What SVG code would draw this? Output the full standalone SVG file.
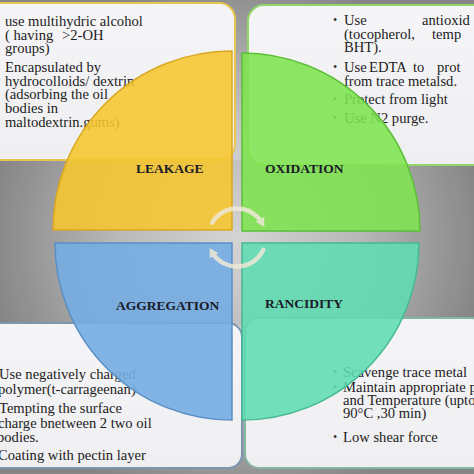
<svg xmlns="http://www.w3.org/2000/svg" width="474" height="474" viewBox="0 0 474 474">
<defs>
<radialGradient id="bg" cx="237" cy="240" r="270" gradientUnits="userSpaceOnUse">
<stop offset="0" stop-color="#e2e2e2"/>
<stop offset="0.45" stop-color="#c4c4c4"/>
<stop offset="1" stop-color="#858585"/>
</radialGradient>
<linearGradient id="box" x1="0" y1="0" x2="0" y2="1">
<stop offset="0" stop-color="#f5f5f7"/>
<stop offset="1" stop-color="#efeff2"/>
</linearGradient>
<marker id="ah" markerUnits="userSpaceOnUse" markerWidth="12" markerHeight="12" refX="4" refY="6" orient="auto">
<path d="M0,1 L9,6 L0,11 Z" fill="#efe8d6"/>
</marker>
</defs>
<style>
.t{font-family:"Liberation Serif","Times New Roman",serif;font-size:14.6px;fill:#1c1c1c}
.b{font-family:"Liberation Serif","Times New Roman",serif;font-size:12px;fill:#333}
.lab{font-family:"Liberation Serif","Times New Roman",serif;font-size:13.5px;font-weight:bold;fill:#1b1b28}
.q{stroke-width:1.5}
.arc{fill:none;stroke:#efe8d6;stroke-width:4.5;stroke-linecap:round;opacity:0.85}
</style>
<rect x="0" y="0" width="474" height="474" fill="url(#bg)"/>
<rect x="0" y="160" width="474" height="165" fill="#000" opacity="0.06"/>

<g id="box-leakage">
<rect x="-16" y="3" width="251" height="157" rx="16" fill="url(#box)" stroke="#e6c650" stroke-width="2"/>
<text class="t" x="5" y="26">use multihydric alcohol</text>
<text class="t" x="5" y="39.5">( having <tspan x="62">&gt;2-OH</tspan></text>
<text class="t" x="5" y="53">groups)</text>
<text class="t" x="5" y="72">Encapsulated by</text>
<text class="t" x="5" y="85.5">hydrocolloids/ dextrin</text>
<text class="t" x="5" y="99">(adsorbing the oil</text>
<text class="t" x="5" y="112.5">bodies in</text>
<text class="t" x="5" y="126.5">maltodextrin.gums)</text>
</g>

<g id="box-oxidation">
<rect x="248" y="5" width="240" height="160" rx="16" fill="url(#box)" stroke="#92d66a" stroke-width="2"/>
<text class="b" x="333" y="24">•</text>
<text class="t" x="344" y="25">Use<tspan x="422">antioxid</tspan></text>
<text class="t" x="344" y="38.5">(tocopherol,<tspan x="432">temp</tspan></text>
<text class="t" x="344" y="52">BHT).</text>
<text class="b" x="333" y="71">•</text>
<text class="t" x="344" y="72">Use<tspan x="369">EDTA</tspan><tspan x="413">to</tspan><tspan x="437">prot</tspan></text>
<text class="t" x="344" y="86">from trace metalsd.</text>
<text class="b" x="333" y="103">•</text>
<text class="t" x="344" y="104">Protect from light</text>
<text class="b" x="333" y="122">•</text>
<text class="t" x="344" y="123">Use N2 purge.</text>
</g>

<g id="box-aggregation">
<rect x="-16" y="323" width="258" height="145" rx="14" fill="url(#box)" stroke="#7b96ae" stroke-width="2"/>
<text class="t" x="-1" y="379">Use negatively charged</text>
<text class="t" x="-2" y="394">polymer(t-carrageenan)</text>
<text class="t" x="-1" y="413">Tempting the surface</text>
<text class="t" x="-2" y="428">charge bnetween 2 two oil</text>
<text class="t" x="-3" y="442">bodies.</text>
<text class="t" x="-2" y="460">Coating with pectin layer</text>
</g>

<g id="box-rancidity">
<rect x="245" y="318" width="240" height="150" rx="14" fill="url(#box)" stroke="#86b5a6" stroke-width="2"/>
<text class="b" x="333" y="376">•</text>
<text class="t" x="343" y="377">Scavenge  trace metal</text>
<text class="b" x="333" y="391">•</text>
<text class="t" x="343" y="392">Maintain appropriate p</text>
<text class="t" x="343" y="405">and Temperature (upto</text>
<text class="t" x="343" y="418">90°C ,30 min)</text>
<text class="b" x="333" y="441">•</text>
<text class="t" x="343" y="442">Low shear force</text>
</g>

<g id="leakage">
<path class="q" d="M232,230 L53,230 A179,179 0 0 1 232,51 Z" fill="#f6c62e" fill-opacity="0.88" stroke="#d9a820"/>
<text class="lab" x="136" y="173">LEAKAGE</text>
</g>
<g id="oxidation">
<path class="q" d="M242,231 L242,53 A178,178 0 0 1 420,231 Z" fill="#7ee44e" fill-opacity="0.88" stroke="#5cbf38"/>
<text class="lab" x="265" y="173">OXIDATION</text>
</g>
<g id="aggregation">
<path class="q" d="M232,243 L232,420 A177,177 0 0 1 55,243 Z" fill="#74ace2" fill-opacity="0.9" stroke="#5a8fc4"/>
<text class="lab" x="116" y="310">AGGREGATION</text>
</g>
<g id="rancidity">
<path class="q" d="M242,243 L419,243 A177,177 0 0 1 242,420 Z" fill="#5edcb0" fill-opacity="0.88" stroke="#44b994"/>
<text class="lab" x="265" y="308">RANCIDITY</text>
</g>

<g id="connectors">
<path class="arc" d="M212.1,222.6 A29,29 0 0 1 261.9,222.6" marker-end="url(#ah)"/>
<path class="arc" d="M263.3,249.8 A29,29 0 0 1 212.1,252.4" marker-end="url(#ah)"/>
</g>
</svg>
